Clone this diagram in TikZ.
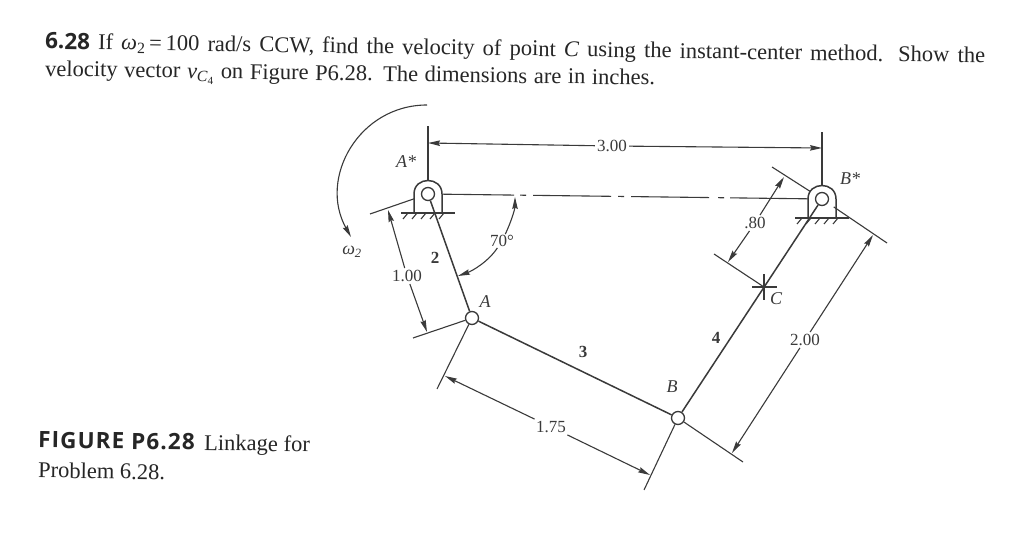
\documentclass[tikz,border=0pt]{standalone}
\usepackage{fontspec}
\setmainfont{Liberation Serif}
\newfontfamily\headfont{Open Sans}
\usepackage{tikz}
\usetikzlibrary{arrows.meta}
\definecolor{ink}{HTML}{3A3A3A}
\tikzset{
    link/.style={draw=ink, line width=1.5pt},
    thin line/.style={draw=ink, line width=1.1pt},
    dimline/.style={thin line, -{Stealth[length=12pt,width=5.5pt,inset=1.5pt]}},
    pin/.style={circle, draw=ink, line width=1.3pt, fill=white, minimum size=13pt, inner sep=0pt},
    dimlabel/.style={text=ink, font=\fontsize{17}{17}\selectfont, inner sep=2pt},
    linklabel/.style={text=ink, font=\fontsize{17}{17}\selectfont\bfseries, inner sep=0pt},
    pointlabel/.style={text=ink, font=\fontsize{18}{18}\selectfont\itshape, inner sep=0pt},
    textline/.style={text=black!85, anchor=west, rotate=-0.85, inner sep=0pt, font=\fontsize{22.5}{24}\selectfont},
    pics/mount/.style={code={
        \draw[link] (-14,19) -- (-14,0) .. controls (-14,-18) and (14,-18) .. (14,0) -- (14,19);
        \draw[link] (-27,19) -- (27,19);
        \foreach \x in {-20,-11,-2,7,16}
            \draw[thin line] (\x,19) -- ++(-5,6);
    }},
}
\begin{document}
\begin{tikzpicture}[x=1pt,y=-1pt]
    \useasboundingbox[fill=white] (0,0) rectangle (1024,537);

    \node[textline] (titleone) at (45,43) {\makebox[940pt][s]{{\headfont\bfseries 6.28} If \textit{ω}\textsubscript{2}\,=\,100 rad/s CCW, find the velocity of point \textit{C} using the instant-center method. Show the}};
    \node[textline] (titletwo) at (45,71) {\makebox[610pt][s]{velocity vector \textit{v}\textsubscript{\textit{C}\textsubscript{4}} on Figure P6.28. The dimensions are in inches.}};
    \node[textline] (capone) at (38,442) {{\headfont\bfseries\addfontfeature{LetterSpace=5} FIGURE P6.28}\, Linkage for};
    \node[textline] (captwo) at (38,470) {Problem 6.28.};

    \pic at (428,194) {mount};
    \pic at (822,199) {mount};

    \node[pin] (Astar) at (428,194) {};
    \node[pin] (Bstar) at (822,199) {};
    \node[pin] (A) at (472,318) {};
    \node[pin] (B) at (678,418) {};
    \node[inner sep=0pt, minimum size=1pt] (C) at (764,287) {};

    % links
    \draw[link] (Astar) -- (A);
    \draw[link] (A) -- (B);
    \draw[link] (B) -- (Bstar);
    \draw[thin line, shorten <=8pt, shorten >=7pt, dash pattern=on 71pt off 6pt on 6pt off 7pt on 78pt off 7pt on 6pt off 7pt on 78pt off 9pt on 6pt off 6pt on 90pt] (Astar) -- (Bstar);
    \draw[thin line] (C.center) ++(-12,0) -- ++(25,0);
    \draw[thin line] (C.center) ++(0,-13) -- ++(0,26);

    % extension lines
    \coordinate (up a) at (428,126);
    \coordinate (up b) at (822,132);
    \coordinate (ext a) at (370,214);
    \coordinate (ext aa) at (413,338);
    \coordinate (ext ab) at (437,389);
    \coordinate (ext b) at (644,490);
    \coordinate (ext bb) at (743,462);
    \coordinate (ext bs) at (887,243);
    \coordinate (ext bt) at (772,167);
    \coordinate (ext c) at (714,254);
    \draw[thin line, shorten <=7pt] (Astar) -- (up a);
    \draw[thin line, shorten <=7pt] (Bstar) -- (up b);
    \draw[thin line, shorten <=7pt] (Astar) -- (ext a);
    \draw[thin line] (A) -- (ext aa);
    \draw[thin line] (A) -- (ext ab);
    \draw[thin line] (B) -- (ext b);
    \draw[thin line] (B) -- (ext bb);
    \draw[thin line, shorten <=7pt] (Bstar) -- (ext bs);
    \draw[thin line, shorten <=7pt] (Bstar) -- (ext bt);
    \draw[thin line] (C) -- (ext c);

    % dimensions
    \node[dimlabel] (dim three) at (612,146) {3.00};
    \coordinate (d3a) at (428,143);
    \coordinate (d3b) at (822,148);
    \draw[dimline] (dim three) -- (d3a);
    \draw[dimline] (dim three) -- (d3b);

    \node[dimlabel] (dim one) at (407,276) {1.00};
    \coordinate (d1a) at (388,210);
    \coordinate (d1b) at (427,332);
    \draw[dimline] (dim one) -- (d1a);
    \draw[dimline] (dim one) -- (d1b);

    \node[dimlabel] (dim oneseven) at (551,427) {1.75};
    \coordinate (d2a) at (445,376);
    \coordinate (d2b) at (650,475);
    \draw[dimline] (dim oneseven) -- (d2a);
    \draw[dimline] (dim oneseven) -- (d2b);

    \node[dimlabel] (dim two) at (805,340) {2.00};
    \coordinate (d4a) at (873,235);
    \coordinate (d4b) at (732,453);
    \draw[dimline] (dim two) -- (d4a);
    \draw[dimline] (dim two) -- (d4b);

    \node[dimlabel] (dim eight) at (755,223) {.80};
    \coordinate (d5a) at (784,177);
    \coordinate (d5b) at (728,262);
    \draw[dimline] (dim eight) -- (d5a);
    \draw[dimline] (dim eight) -- (d5b);

    % angle and speed
    \node[dimlabel, inner sep=1pt] (angle) at (502,241) {70°};
    \coordinate (ang top) at (515,197);
    \coordinate (ang link) at (458,276);
    \draw[dimline] (angle) .. controls (512,220) and (515,208) .. (ang top);
    \draw[dimline] (angle) .. controls (488,262) and (472,271) .. (ang link);

    \coordinate (omega start) at (427,105);
    \coordinate (omega end) at (351,237);
    \draw[dimline] (omega start) .. controls (359,105) and (318,178) .. (omega end);
    \node[pointlabel] (omega) at (352,252) {ω\textsubscript{2}};

    % labels
    \node[pointlabel] (label A) at (485,302) {A};
    \node[pointlabel] (label Astar) at (406,162) {A*};
    \node[pointlabel] (label B) at (672,387) {B};
    \node[pointlabel] (label Bstar) at (850,179) {B*};
    \node[pointlabel] (label C) at (776,299) {C};
    \node[linklabel] (link two) at (435,258) {2};
    \node[linklabel] (link three) at (583,352) {3};
    \node[linklabel] (link four) at (716,338) {4};
\end{tikzpicture}
\end{document}
